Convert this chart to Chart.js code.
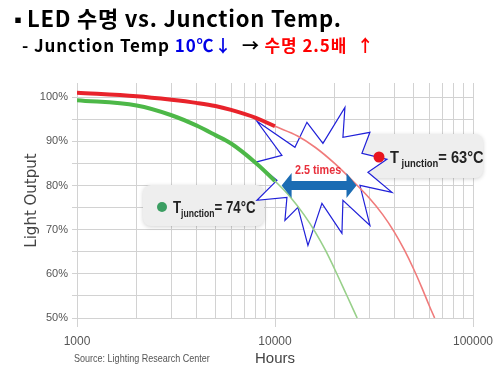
<!DOCTYPE html>
<html>
<head>
<meta charset="utf-8">
<script src="https://cdn.jsdelivr.net/npm/chart.js@4"></script>
<style>
  html, body { margin: 0; padding: 0; background: #fff; }
  #wrap { position: relative; width: 494px; height: 365px; overflow: hidden; }
  #chart { position: absolute; left: 0; top: 0; }
  .abs { position: absolute; white-space: pre; line-height: 1; transform-origin: 0 50%; }
  .head { font-family: "Noto Sans CJK KR", sans-serif; font-weight: bold; color: #000; }
  .tj { font-family: "Liberation Sans", Arial, sans-serif; font-weight: bold; font-size: 17px; color: #222; }
  .tj sub { font-size: 11px; vertical-align: -4px; }
  .times { font-family: "Liberation Sans", Arial, sans-serif; font-weight: bold; font-size: 13.5px; color: #e8303c; transform: scaleX(0.8); }
  .src { font-family: "Liberation Sans", Arial, sans-serif; font-size: 11px; color: #555; transform: scaleX(0.82); }
</style>
</head>
<body>
<div id="wrap">
  <canvas id="chart" width="494" height="365"></canvas>
  <span class="abs head" style="left:8px; top:10px; font-size:20px;">▪</span>
  <span class="abs head" style="left:27px; top:6px; font-size:22px; letter-spacing:0.75px;">LED 수명 vs. Junction Temp.</span>
  <span class="abs head" style="left:22px; top:36px; font-size:17px; letter-spacing:0.9px;">- Junction Temp <span style="color:#0000e6">10℃↓</span>  → <span style="color:#ff0000">수명 2.5배  ↑</span></span>
  <span class="abs tj" style="left:173px; top:199px; transform:scaleX(0.78);">T<sub>junction</sub>= 74°C</span>
  <span class="abs tj" style="left:390px; top:149px; transform:scaleX(0.86);">T<sub> junction</sub>= 63°C</span>
  <span class="abs times" style="left:295px; top:163px;">2.5 times</span>
  <span class="abs src" style="left:74px; top:353px;">Source: Lighting Research Center</span>
</div>
<script>
  // Light output vs. operating hours
  var redHours = [1000, 2000, 3000, 4000, 5000, 6000, 8000, 10000, 13000, 16000, 20000, 25000, 30000, 35000, 40000, 45000, 50000, 55000, 60000, 64000];
  var redOutput = [101, 100.2, 99.4, 98.7, 98, 97.1, 95.3, 93.4, 91.2, 88.6, 85, 80.8, 77.1, 73.4, 69.5, 65.4, 61.2, 57, 52.9, 50];
  var greenHours = [1000, 2000, 3000, 4000, 5000, 6000, 8000, 10000, 12000, 14000, 16000, 18000, 20000, 23000, 26000];
  var greenOutput = [99.3, 98.1, 95.9, 93.6, 91.4, 89.5, 85.1, 81, 77.3, 73.4, 69.4, 65.3, 61.1, 55.2, 50];

  // Axes
  var xGridValues = [1000, 2000, 3000, 4000, 5000, 6000, 7000, 8000, 9000, 10000, 20000, 30000, 40000, 50000, 60000, 70000, 80000, 90000, 100000];
  var xTickValues = [1000, 10000, 100000];
  var xTickLabels = ['1000', '10000', '100000'];
  var yGridValues = [50, 55, 60, 65, 70, 75, 80, 85, 90, 95, 100];
  var yTickValues = [50, 60, 70, 80, 90, 100];
  var yTickLabels = ['50%', '60%', '70%', '80%', '90%', '100%'];

  // Annotation anchors (data space)
  var measuredUntil = 10000;
  var arrowSpan = [10800, 25800];
  var arrowLevel = 80;
  var starCenter = [17260, 82.3];

  var starShape = [
    [-65, -54], [-27, -28], [-15, -53], [1, -32], [23, -68], [21, -38], [48, -43], [40, -22],
    [65, -16], [46, -3], [70, 17], [38, 10], [48, 50], [21, 25], [20, 58], [0, 28],
    [-14, 70], [-24, 32], [-37, 45], [-35, 22], [-65, 25], [-45, 5], [-67, -13], [-40, -20]
  ];
  var legendBoxes = [
    { x: 143, y: 185, w: 121, h: 41, dot: [162, 207], r: 5, color: '#3b9e62' },
    { x: 363, y: 134, w: 120, h: 44, dot: [379, 157], r: 5.5, color: '#e8141e' }
  ];

  var gridColor = '#d2d2d2';
  var tickFont = "'Liberation Sans', Arial, sans-serif";

  function points(xs, ys) {
    return xs.map(function (x, i) { return { x: x, y: ys[i] }; });
  }

  function roundRect(ctx, x, y, w, h, r) {
    ctx.beginPath();
    ctx.moveTo(x + r, y);
    ctx.arcTo(x + w, y, x + w, y + h, r);
    ctx.arcTo(x + w, y + h, x, y + h, r);
    ctx.arcTo(x, y + h, x, y, r);
    ctx.arcTo(x, y, x + w, y, r);
    ctx.closePath();
  }

  var overlayPlugin = {
    id: 'overlay',
    beforeDatasetsDraw: function (chart) {
      var ctx = chart.ctx;
      ctx.save();
      legendBoxes.forEach(function (b) {
        ctx.shadowColor = 'rgba(0,0,0,0.18)';
        ctx.shadowBlur = 4;
        ctx.shadowOffsetY = 1;
        roundRect(ctx, b.x, b.y, b.w, b.h, 8);
        ctx.fillStyle = '#eeeeee';
        ctx.fill();
      });
      ctx.shadowColor = 'transparent';
      var cx = chart.scales.x.getPixelForValue(starCenter[0]);
      var cy = chart.scales.y.getPixelForValue(starCenter[1]);
      ctx.beginPath();
      starShape.forEach(function (p, i) {
        if (i === 0) ctx.moveTo(cx + p[0], cy + p[1]);
        else ctx.lineTo(cx + p[0], cy + p[1]);
      });
      ctx.closePath();
      ctx.fillStyle = '#ffffff';
      ctx.fill();
      ctx.strokeStyle = '#2020d8';
      ctx.lineWidth = 1.2;
      ctx.stroke();
      ctx.restore();
    },
    afterDatasetsDraw: function (chart) {
      var ctx = chart.ctx;
      var x1 = chart.scales.x.getPixelForValue(arrowSpan[0]);
      var x2 = chart.scales.x.getPixelForValue(arrowSpan[1]);
      var y = chart.scales.y.getPixelForValue(arrowLevel);
      var hl = 10, hh = 12.5, sh = 4.5;
      ctx.save();
      ctx.beginPath();
      ctx.moveTo(x1, y);
      ctx.lineTo(x1 + hl, y - hh);
      ctx.lineTo(x1 + hl, y - sh);
      ctx.lineTo(x2 - hl, y - sh);
      ctx.lineTo(x2 - hl, y - hh);
      ctx.lineTo(x2, y);
      ctx.lineTo(x2 - hl, y + hh);
      ctx.lineTo(x2 - hl, y + sh);
      ctx.lineTo(x1 + hl, y + sh);
      ctx.lineTo(x1 + hl, y + hh);
      ctx.closePath();
      ctx.fillStyle = '#1b6cb3';
      ctx.fill();
      legendBoxes.forEach(function (b) {
        ctx.beginPath();
        ctx.arc(b.dot[0], b.dot[1], b.r, 0, Math.PI * 2);
        ctx.fillStyle = b.color;
        ctx.fill();
      });
      ctx.restore();
    }
  };

  function splitStyle(thick, thin) {
    return function (c) { return c.p0.parsed.x >= measuredUntil ? thin : thick; };
  }

  new Chart(document.getElementById('chart'), {
    type: 'line',
    data: {
      datasets: [{
        label: 'T junction = 63°C',
        data: points(redHours, redOutput),
        borderColor: '#e8232b',
        borderWidth: 4,
        pointRadius: 0,
        cubicInterpolationMode: 'monotone',
        segment: {
          borderColor: splitStyle('#e8232b', '#f07b7b'),
          borderWidth: splitStyle(4, 1.6)
        }
      }, {
        label: 'T junction = 74°C',
        data: points(greenHours, greenOutput),
        borderColor: '#4db848',
        borderWidth: 4,
        pointRadius: 0,
        cubicInterpolationMode: 'monotone',
        segment: {
          borderColor: splitStyle('#4db848', '#98d08a'),
          borderWidth: splitStyle(4, 1.6)
        }
      }]
    },
    options: {
      responsive: false,
      animation: false,
      devicePixelRatio: 1,
      layout: { padding: { left: 0, right: 21, top: 83, bottom: 0 } },
      plugins: { legend: { display: false }, tooltip: { enabled: false } },
      scales: {
        x: {
          type: 'logarithmic',
          min: 1000,
          max: 100000,
          afterBuildTicks: function (scale) {
            scale.ticks = xGridValues.map(function (v) { return { value: v }; });
          },
          afterFit: function (scale) {
            scale.height = 47;
            scale.paddingLeft = 0;
            scale.paddingRight = 0;
          },
          grid: {
            color: gridColor,
            tickLength: 9,
            tickColor: function (c) {
              return c.tick && xTickValues.indexOf(c.tick.value) >= 0 ? gridColor : 'rgba(0,0,0,0)';
            }
          },
          border: { color: gridColor },
          ticks: {
            autoSkip: false,
            maxRotation: 0,
            padding: 7,
            color: '#555',
            font: { family: tickFont, size: 12 },
            callback: function (v) {
              var i = xTickValues.indexOf(v);
              return i >= 0 ? xTickLabels[i] : '';
            }
          },
          title: {
            display: true,
            text: 'Hours',
            color: '#444',
            padding: { top: 0, bottom: 0 },
            font: { family: tickFont, size: 15, lineHeight: 0.85 }
          }
        },
        y: {
          min: 50,
          max: 103.2,
          afterBuildTicks: function (scale) {
            scale.ticks = yGridValues.map(function (v) { return { value: v }; });
          },
          afterFit: function (scale) {
            scale.width = 77;
            scale.paddingTop = 0;
            scale.paddingBottom = 0;
          },
          grid: { color: gridColor, tickLength: 5, tickColor: gridColor },
          border: { color: gridColor },
          ticks: {
            padding: 4,
            color: '#555',
            font: { family: tickFont, size: 11 },
            callback: function (v) {
              var i = yTickValues.indexOf(v);
              return i >= 0 ? yTickLabels[i] : '';
            }
          },
          title: {
            display: true,
            text: 'Light Output',
            color: '#444',
            padding: { top: 23, bottom: 0 },
            font: { family: "'DejaVu Sans', sans-serif", size: 15 }
          }
        }
      }
    },
    plugins: [overlayPlugin]
  });
</script>
</body>
</html>
